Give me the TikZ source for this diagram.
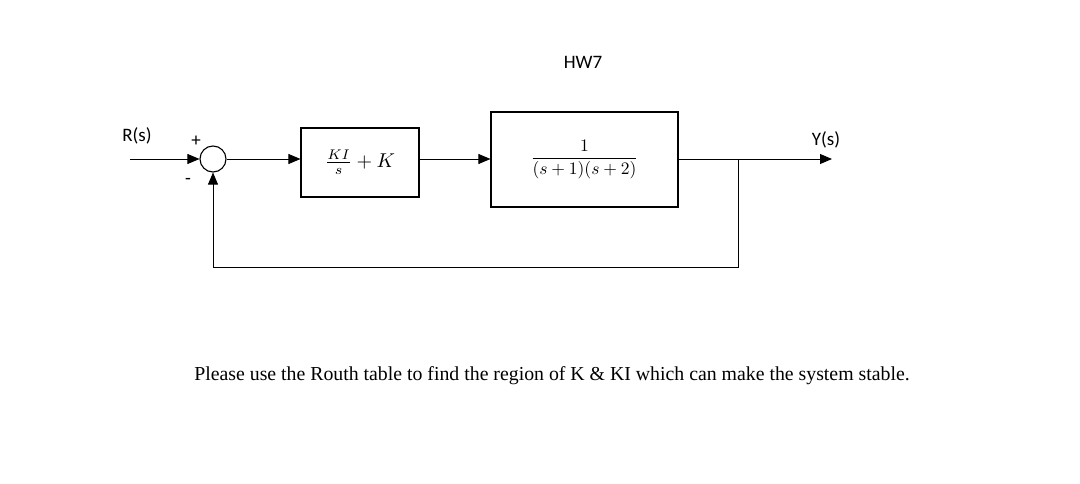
\documentclass[tikz,border=0pt]{standalone}
\usepackage{amsmath}
\usepackage{fontspec}
\setmainfont{Liberation Serif}
\newfontfamily\lab{Carlito}
\usetikzlibrary{arrows.meta}
\begin{document}
\begin{tikzpicture}[x=1pt,y=-1pt,
  blk/.style={draw,line width=1.1pt,inner sep=0pt},
  sig/.style={line width=0.9pt,-{Triangle[length=12pt,width=10pt]}},
  ln/.style={line width=0.9pt},
  lb/.style={font=\lab\fontsize{19}{22}\selectfont}]
\useasboundingbox (0,0) rectangle (1080,484);
\node[lb] (title) at (583,62) {HW7};
\coordinate (in) at (130,159);
\node[draw,circle,line width=1.1pt,minimum size=26pt,inner sep=0pt] (sum) at (213,159) {};
\node[blk,minimum width=118pt,minimum height=69pt] (c) at (360,162.5) {};
\node[scale=2] at (c) {$\frac{KI}{s}+K$};
\node[blk,minimum width=187pt,minimum height=95pt] (p) at (584.5,159.5) {};
\node[scale=1.75] at (p) {$\dfrac{1}{(s+1)(s+2)}$};
\coordinate (tap) at (738,159);
\coordinate (out) at (832,159);
\coordinate (bot) at (738,267);
\coordinate (botl) at (213,267);
\node[lb] (r) at (137,136) {R(s)};
\node[lb] (plus) at (196,141) {+};
\node[lb] (minus) at (188,181) {-};
\node[lb] (y) at (826,140) {Y(s)};
\draw[sig] (in) -- (sum.west);
\draw[sig] (sum.east) -- (c.west |- sum);
\draw[sig] (c.east |- sum) -- (p.west |- sum);
\draw[ln] (p.east |- sum) -- (tap);
\draw[sig] (tap) -- (out);
\draw[ln] (tap) -- (bot) -- (botl);
\draw[sig] (botl) -- (sum.south);
\node[font=\fontsize{19.8}{23}\selectfont] (txt) at (552,376) {Please use the Routh table to find the region of K \& KI which can make the system stable.};
\end{tikzpicture}
\end{document}
